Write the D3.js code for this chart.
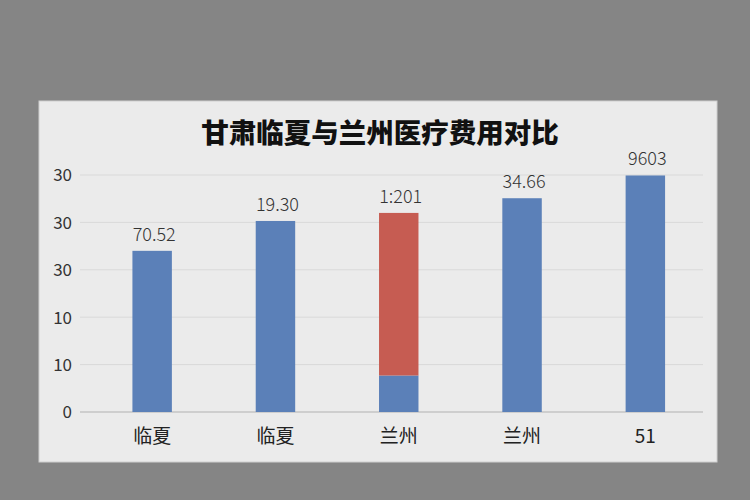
<!DOCTYPE html>
<html><head><meta charset="utf-8">
<script src="https://cdn.jsdelivr.net/npm/d3@7/dist/d3.min.js"></script>
<style>html,body{margin:0;padding:0;background:#858585;}</style>
</head><body>
<svg id="chart" width="750" height="500"></svg>
<script>
const title = "甘肃临夏与兰州医疗费用对比";
const categories = ["临夏", "临夏", "兰州", "兰州", "51"];
const blueValues = [34, 40.3, 7.7, 45.1, 49.9];
const redValues = [0, 0, 34.3, 0, 0];
const valueLabels = ["70.52", "19.30", "1:201", "34.66", "9603"];
const tickValues = [0, 10, 20, 30, 40, 50];
const tickLabels = ["0", "10", "10", "30", "30", "30"];

const svg = d3.select("#chart");
const W = 750, H = 500;
svg.append("rect").attr("width", W).attr("height", H).attr("fill", "#858585");
svg.append("rect").attr("x", 39).attr("y", 101).attr("width", 678).attr("height", 361)
  .attr("fill", "#ebebeb").attr("stroke", "#cfcfcf").attr("stroke-width", 1);

const font = "'Noto Sans CJK SC', 'Noto Sans', sans-serif";
const x = d3.scaleBand().domain(d3.range(categories.length)).range([90.5, 707]).paddingInner(0.68).paddingOuter(0.34);
const y = d3.scaleLinear().domain([0, 50]).range([412, 175]);

// gridlines
svg.append("g").selectAll("line").data(tickValues).join("line")
  .attr("x1", 80).attr("x2", 703)
  .attr("y1", d => y(d)).attr("y2", d => y(d))
  .attr("stroke", d => d === 0 ? "#c4c4c4" : "#d9d9d9").attr("stroke-width", d => d === 0 ? 1.5 : 1);

// y axis labels
const yAxis = d3.axisLeft(y).tickValues(tickValues).tickSize(0).tickPadding(0)
  .tickFormat((d, i) => tickLabels[i]);
const ya = svg.append("g").attr("transform", "translate(72,0)").call(yAxis);
ya.select(".domain").remove();
ya.selectAll("text").attr("font-family", font).attr("font-size", 17).attr("fill", "#333").attr("dy", "0.35em");

// bars
const bw = x.bandwidth();
svg.append("g").selectAll("rect").data(blueValues).join("rect")
  .attr("x", (d, i) => x(i)).attr("width", bw)
  .attr("y", d => y(d)).attr("height", d => y(0) - y(d))
  .attr("fill", "#5b80b8");
svg.append("g").selectAll("rect").data(redValues).join("rect")
  .attr("x", (d, i) => x(i)).attr("width", bw)
  .attr("y", (d, i) => y(blueValues[i] + d)).attr("height", (d, i) => y(blueValues[i]) - y(blueValues[i] + d))
  .attr("fill", "#c65c52");

// value labels
svg.append("g").selectAll("text").data(valueLabels).join("text")
  .attr("x", (d, i) => x(i) + bw / 2 + 2)
  .attr("y", (d, i) => y(blueValues[i] + redValues[i]) - 10)
  .attr("text-anchor", "middle").attr("font-family", font).attr("font-size", 18).attr("font-weight", 300)
  .attr("fill", "#333").text(d => d);

// x axis labels
const xAxis = d3.axisBottom(x).tickSize(0).tickPadding(0).tickFormat(i => categories[i]);
const xa = svg.append("g").attr("transform", "translate(0,443)").call(xAxis);
xa.select(".domain").remove();
xa.selectAll("text").attr("font-family", font).attr("font-size", 19).attr("fill", "#222").attr("dy", "0");

// title
svg.append("text").attr("x", 380).attr("y", 143).attr("text-anchor", "middle")
  .attr("font-family", font).attr("font-size", 27.5).attr("font-weight", 900)
  .attr("fill", "#111").text(title);
</script>
</body></html>
